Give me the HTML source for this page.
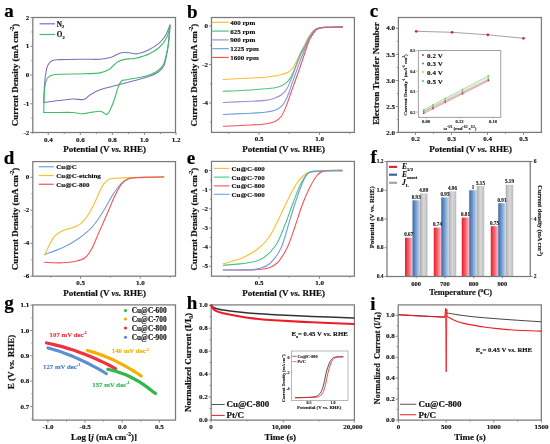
<!DOCTYPE html><html><head><meta charset="utf-8"><style>html,body{margin:0;padding:0;background:#fff;width:550px;height:444px;overflow:hidden}svg{display:block}</style></head><body><svg width="550" height="444" viewBox="0 0 550 444">
<defs><filter id="bl" x="-1%" y="-1%" width="102%" height="102%"><feGaussianBlur stdDeviation="0.3"/></filter></defs>
<rect width="550" height="444" fill="#fff"/>
<g filter="url(#bl)">
<text x="4.3" y="17.4" text-anchor="start" style="font-family:'Liberation Serif',serif;font-weight:bold;font-size:19px;" fill="#000" stroke="#000" stroke-width="0.200"><tspan dy="-0.00">a</tspan></text>
<rect x="32.8" y="17.5" width="142.7" height="115" fill="none" stroke="#7a7a7a" stroke-width="1.25"/>
<line x1="32.8" y1="17.6" x2="30.3" y2="17.6" stroke="#7a7a7a" stroke-width="0.9"/>
<text x="29.3" y="19.7" text-anchor="end" style="font-family:'Liberation Serif',serif;font-weight:bold;font-size:7px;" fill="#111" stroke="#111" stroke-width="0.150"><tspan dy="-0.00">2</tspan></text>
<line x1="32.8" y1="46.3" x2="30.3" y2="46.3" stroke="#7a7a7a" stroke-width="0.9"/>
<text x="29.3" y="48.4" text-anchor="end" style="font-family:'Liberation Serif',serif;font-weight:bold;font-size:7px;" fill="#111" stroke="#111" stroke-width="0.150"><tspan dy="-0.00">1</tspan></text>
<line x1="32.8" y1="75" x2="30.3" y2="75" stroke="#7a7a7a" stroke-width="0.9"/>
<text x="29.3" y="77.1" text-anchor="end" style="font-family:'Liberation Serif',serif;font-weight:bold;font-size:7px;" fill="#111" stroke="#111" stroke-width="0.150"><tspan dy="-0.00">0</tspan></text>
<line x1="32.8" y1="103.75" x2="30.3" y2="103.75" stroke="#7a7a7a" stroke-width="0.9"/>
<text x="29.3" y="105.85" text-anchor="end" style="font-family:'Liberation Serif',serif;font-weight:bold;font-size:7px;" fill="#111" stroke="#111" stroke-width="0.150"><tspan dy="-0.00">-1</tspan></text>
<line x1="32.8" y1="132.5" x2="30.3" y2="132.5" stroke="#7a7a7a" stroke-width="0.9"/>
<text x="29.3" y="134.6" text-anchor="end" style="font-family:'Liberation Serif',serif;font-weight:bold;font-size:7px;" fill="#111" stroke="#111" stroke-width="0.150"><tspan dy="-0.00">-2</tspan></text>
<line x1="32.8" y1="31.95" x2="31.3" y2="31.95" stroke="#7a7a7a" stroke-width="0.8"/>
<line x1="32.8" y1="60.65" x2="31.3" y2="60.65" stroke="#7a7a7a" stroke-width="0.8"/>
<line x1="32.8" y1="89.38" x2="31.3" y2="89.38" stroke="#7a7a7a" stroke-width="0.8"/>
<line x1="32.8" y1="118.12" x2="31.3" y2="118.12" stroke="#7a7a7a" stroke-width="0.8"/>
<line x1="48.25" y1="132.5" x2="48.25" y2="135" stroke="#7a7a7a" stroke-width="0.9"/>
<text x="48.25" y="141.5" text-anchor="middle" style="font-family:'Liberation Serif',serif;font-weight:bold;font-size:7px;" fill="#111" stroke="#111" stroke-width="0.150"><tspan dy="-0.00">0.4</tspan></text>
<line x1="80.31" y1="132.5" x2="80.31" y2="135" stroke="#7a7a7a" stroke-width="0.9"/>
<text x="80.31" y="141.5" text-anchor="middle" style="font-family:'Liberation Serif',serif;font-weight:bold;font-size:7px;" fill="#111" stroke="#111" stroke-width="0.150"><tspan dy="-0.00">0.6</tspan></text>
<line x1="112.37" y1="132.5" x2="112.37" y2="135" stroke="#7a7a7a" stroke-width="0.9"/>
<text x="112.37" y="141.5" text-anchor="middle" style="font-family:'Liberation Serif',serif;font-weight:bold;font-size:7px;" fill="#111" stroke="#111" stroke-width="0.150"><tspan dy="-0.00">0.8</tspan></text>
<line x1="144.43" y1="132.5" x2="144.43" y2="135" stroke="#7a7a7a" stroke-width="0.9"/>
<text x="144.43" y="141.5" text-anchor="middle" style="font-family:'Liberation Serif',serif;font-weight:bold;font-size:7px;" fill="#111" stroke="#111" stroke-width="0.150"><tspan dy="-0.00">1.0</tspan></text>
<line x1="176" y1="132.5" x2="176" y2="135" stroke="#7a7a7a" stroke-width="0.9"/>
<text x="176" y="141.5" text-anchor="middle" style="font-family:'Liberation Serif',serif;font-weight:bold;font-size:7px;" fill="#111" stroke="#111" stroke-width="0.150"><tspan dy="-0.00">1.2</tspan></text>
<line x1="32.22" y1="132.5" x2="32.22" y2="134" stroke="#7a7a7a" stroke-width="0.8"/>
<line x1="64.28" y1="132.5" x2="64.28" y2="134" stroke="#7a7a7a" stroke-width="0.8"/>
<line x1="96.34" y1="132.5" x2="96.34" y2="134" stroke="#7a7a7a" stroke-width="0.8"/>
<line x1="128.4" y1="132.5" x2="128.4" y2="134" stroke="#7a7a7a" stroke-width="0.8"/>
<line x1="160.46" y1="132.5" x2="160.46" y2="134" stroke="#7a7a7a" stroke-width="0.8"/>
<text x="104.7" y="152" text-anchor="middle" style="font-family:'Liberation Serif',serif;font-weight:bold;font-size:9px;" fill="#111" stroke="#111" stroke-width="0.193"><tspan dy="-0.00">Potential (V </tspan><tspan dy="0.00" font-style="italic">vs.</tspan><tspan dy="0.00"> RHE)</tspan></text>
<text x="17.5" y="75" text-anchor="middle" style="font-family:'Liberation Serif',serif;font-weight:bold;font-size:9px;" fill="#111" stroke="#111" stroke-width="0.193" transform="rotate(-90 17.5 75)"><tspan dy="-0.00">Current Density (mA cm</tspan><tspan dy="-3.42" style="font-size:5.58px">-2</tspan><tspan dy="3.42">)</tspan></text>
<path d="M43.75,102.5 C43.88,99.58 44.12,90.08 44.5,85 C44.88,79.92 45.42,75.33 46,72 C46.58,68.67 46.92,66.92 48,65 C49.08,63.08 50.5,61.4 52.5,60.5 C54.5,59.6 54.58,59.81 60,59.6 C65.42,59.39 78.33,59.32 85,59.25 C91.67,59.18 95.62,59.54 100,59.2 C104.38,58.86 108.63,57.9 111.3,57.2 C113.97,56.5 114.32,55.75 116,55 C117.68,54.25 119.18,53.08 121.4,52.7 C123.62,52.32 126.67,52.52 129.3,52.7 C131.93,52.88 134.2,54.18 137.2,53.8 C140.2,53.42 143.73,52.1 147.3,50.4 C150.87,48.7 155.6,46.03 158.6,43.6 C161.6,41.17 163.4,38.9 165.3,35.8 C167.2,32.7 169.22,26.8 170,25" fill="none" stroke="#7a72b8" stroke-width="1.1" stroke-linejoin="round" stroke-linecap="round" />
<path d="M170,25 C169.75,27.83 168.9,37.95 168.5,42 C168.1,46.05 168.32,45.47 167.6,49.3 C166.88,53.13 165.7,61.25 164.2,65 C162.7,68.75 161.05,69.92 158.6,71.8 C156.15,73.68 153.63,74.8 149.5,76.3 C145.37,77.8 138.67,79.48 133.8,80.8 C128.93,82.12 125.93,82.7 120.3,84.2 C114.67,85.7 105.05,88 100,89.8 C94.95,91.6 92.71,93.38 90,95 C87.29,96.62 86.67,98.83 83.75,99.5 C80.83,100.17 77.29,98.75 72.5,99 C67.71,99.25 59.79,100.42 55,101 C50.21,101.58 45.62,102.25 43.75,102.5" fill="none" stroke="#7a72b8" stroke-width="1.1" stroke-linejoin="round" stroke-linecap="round" />
<path d="M43.75,112.5 C43.83,109.58 43.91,99.92 44.2,95 C44.49,90.08 44.87,85.92 45.5,83 C46.13,80.08 46.83,78.83 48,77.5 C49.17,76.17 50.5,75.55 52.5,75 C54.5,74.45 54.58,74.41 60,74.2 C65.42,73.99 78.33,73.97 85,73.75 C91.67,73.53 96,73.61 100,72.9 C104,72.19 106.67,70.82 109,69.5 C111.33,68.18 112.5,66.3 114,65 C115.5,63.7 116.2,62.63 118,61.7 C119.8,60.77 122.8,59.88 124.8,59.4 C126.8,58.92 128.13,58.98 130,58.8 C131.87,58.62 132.75,59.13 136,58.3 C139.25,57.47 145.55,55.68 149.5,53.8 C153.45,51.92 156.88,49.63 159.7,47 C162.52,44.37 164.68,41.42 166.4,38 C168.12,34.58 169.4,28.42 170,26.5" fill="none" stroke="#3cbf6a" stroke-width="1.1" stroke-linejoin="round" stroke-linecap="round" />
<path d="M170,26.5 C169.78,29.17 169.37,37.58 168.7,42.5 C168.03,47.42 166.93,52.25 166,56 C165.07,59.75 164.72,62.37 163.1,65 C161.48,67.63 159.32,69.92 156.3,71.8 C153.28,73.68 149.88,74.98 145,76.3 C140.12,77.62 130.93,78.92 127,79.7 C123.07,80.48 122.9,79.68 121.4,81 C119.9,82.32 119.13,84.63 118,87.6 C116.87,90.57 115.92,95.05 114.6,98.8 C113.28,102.55 111.4,107.47 110.1,110.1 C108.8,112.73 107.98,114.2 106.8,114.6 C105.62,115 104.13,113.07 103,112.5 C101.87,111.93 102.17,111.2 100,111.2 C97.83,111.2 92.92,112.08 90,112.5 C87.08,112.92 85.42,113.75 82.5,113.75 C79.58,113.75 77.08,112.71 72.5,112.5 C67.92,112.29 59.79,112.5 55,112.5 C50.21,112.5 45.62,112.5 43.75,112.5" fill="none" stroke="#3cbf6a" stroke-width="1.1" stroke-linejoin="round" stroke-linecap="round" />
<line x1="39.5" y1="23.8" x2="55" y2="23.8" stroke="#7a72b8" stroke-width="1.2"/>
<line x1="39.5" y1="34.5" x2="55" y2="34.5" stroke="#3cbf6a" stroke-width="1.2"/>
<text x="56.8" y="26.6" text-anchor="start" style="font-family:'Liberation Serif',serif;font-weight:bold;font-size:7.2px;" fill="#111" stroke="#111" stroke-width="0.154"><tspan dy="-0.00">N</tspan><tspan dy="1.44" style="font-size:4.46px">2</tspan></text>
<text x="56.8" y="37.3" text-anchor="start" style="font-family:'Liberation Serif',serif;font-weight:bold;font-size:7.2px;" fill="#111" stroke="#111" stroke-width="0.154"><tspan dy="-0.00">O</tspan><tspan dy="1.44" style="font-size:4.46px">2</tspan></text>
<text x="187" y="17.5" text-anchor="start" style="font-family:'Liberation Serif',serif;font-weight:bold;font-size:19px;" fill="#000" stroke="#000" stroke-width="0.200"><tspan dy="-0.00">b</tspan></text>
<rect x="211.5" y="17.5" width="142.9" height="114.9" fill="none" stroke="#7a7a7a" stroke-width="1.25"/>
<line x1="211.5" y1="26" x2="209" y2="26" stroke="#7a7a7a" stroke-width="0.9"/>
<text x="208" y="28.1" text-anchor="end" style="font-family:'Liberation Serif',serif;font-weight:bold;font-size:7px;" fill="#111" stroke="#111" stroke-width="0.150"><tspan dy="-0.00">0</tspan></text>
<line x1="211.5" y1="64.5" x2="209" y2="64.5" stroke="#7a7a7a" stroke-width="0.9"/>
<text x="208" y="66.6" text-anchor="end" style="font-family:'Liberation Serif',serif;font-weight:bold;font-size:7px;" fill="#111" stroke="#111" stroke-width="0.150"><tspan dy="-0.00">-2</tspan></text>
<line x1="211.5" y1="103" x2="209" y2="103" stroke="#7a7a7a" stroke-width="0.9"/>
<text x="208" y="105.1" text-anchor="end" style="font-family:'Liberation Serif',serif;font-weight:bold;font-size:7px;" fill="#111" stroke="#111" stroke-width="0.150"><tspan dy="-0.00">-4</tspan></text>
<line x1="211.5" y1="45.25" x2="210" y2="45.25" stroke="#7a7a7a" stroke-width="0.8"/>
<line x1="211.5" y1="83.75" x2="210" y2="83.75" stroke="#7a7a7a" stroke-width="0.8"/>
<line x1="211.5" y1="122.25" x2="210" y2="122.25" stroke="#7a7a7a" stroke-width="0.8"/>
<line x1="259" y1="132.4" x2="259" y2="134.9" stroke="#7a7a7a" stroke-width="0.9"/>
<text x="259" y="141.4" text-anchor="middle" style="font-family:'Liberation Serif',serif;font-weight:bold;font-size:7px;" fill="#111" stroke="#111" stroke-width="0.150"><tspan dy="-0.00">0.5</tspan></text>
<line x1="319.5" y1="132.4" x2="319.5" y2="134.9" stroke="#7a7a7a" stroke-width="0.9"/>
<text x="319.5" y="141.4" text-anchor="middle" style="font-family:'Liberation Serif',serif;font-weight:bold;font-size:7px;" fill="#111" stroke="#111" stroke-width="0.150"><tspan dy="-0.00">1.0</tspan></text>
<line x1="228.75" y1="132.4" x2="228.75" y2="133.9" stroke="#7a7a7a" stroke-width="0.8"/>
<line x1="289.25" y1="132.4" x2="289.25" y2="133.9" stroke="#7a7a7a" stroke-width="0.8"/>
<line x1="349.75" y1="132.4" x2="349.75" y2="133.9" stroke="#7a7a7a" stroke-width="0.8"/>
<text x="283.7" y="152" text-anchor="middle" style="font-family:'Liberation Serif',serif;font-weight:bold;font-size:9px;" fill="#111" stroke="#111" stroke-width="0.193"><tspan dy="-0.00">Potential (V </tspan><tspan dy="0.00" font-style="italic">vs.</tspan><tspan dy="0.00"> RHE)</tspan></text>
<text x="196.5" y="75" text-anchor="middle" style="font-family:'Liberation Serif',serif;font-weight:bold;font-size:9px;" fill="#111" stroke="#111" stroke-width="0.193" transform="rotate(-90 196.5 75)"><tspan dy="-0.00">Current Density (mA cm</tspan><tspan dy="-3.42" style="font-size:5.58px">-2</tspan><tspan dy="3.42">)</tspan></text>
<path d="M223.25,79.5 C226.88,79.3 238.04,78.68 245,78.3 C251.96,77.92 259.18,77.75 265,77.2 C270.82,76.65 275.98,75.87 279.9,75 C283.82,74.13 286.23,73.33 288.5,72 C290.77,70.67 291.85,69.48 293.5,67 C295.15,64.52 296.55,60.77 298.4,57.1 C300.25,53.43 302.92,48.3 304.6,45 C306.28,41.7 306.85,39.8 308.5,37.3 C310.15,34.8 312.58,31.57 314.5,30 C316.42,28.43 318.08,28.35 320,27.9 C321.92,27.45 322.25,27.47 326,27.3 C329.75,27.13 339.75,26.97 342.5,26.9" fill="none" stroke="#f8bf2e" stroke-width="1.1" stroke-linejoin="round" stroke-linecap="round" />
<path d="M223.25,91.25 C226.88,91.08 238.04,90.61 245,90.2 C251.96,89.79 259.6,89.28 265,88.8 C270.4,88.32 273.9,88.25 277.4,87.3 C280.9,86.35 283.73,84.83 286,83.1 C288.27,81.37 289.33,79.78 291,76.9 C292.67,74.02 294.25,69.95 296,65.8 C297.75,61.65 299.92,55.47 301.5,52 C303.08,48.53 304.25,47.45 305.5,45 C306.75,42.55 307.45,39.8 309,37.3 C310.55,34.8 312.97,31.57 314.8,30 C316.63,28.43 318.13,28.35 320,27.9 C321.87,27.45 322.25,27.47 326,27.3 C329.75,27.13 339.75,26.97 342.5,26.9" fill="none" stroke="#4cc47f" stroke-width="1.1" stroke-linejoin="round" stroke-linecap="round" />
<path d="M223.25,102.5 C226.88,102.33 238.04,101.85 245,101.5 C251.96,101.15 260.02,100.98 265,100.4 C269.98,99.82 272.02,99.02 274.9,98 C277.78,96.98 280.23,95.95 282.3,94.3 C284.37,92.65 285.65,91 287.3,88.1 C288.95,85.2 290.35,81.65 292.2,76.9 C294.05,72.15 296.13,64.92 298.4,59.6 C300.67,54.28 303.98,48.72 305.8,45 C307.62,41.28 307.77,39.8 309.3,37.3 C310.83,34.8 313.22,31.57 315,30 C316.78,28.43 318.17,28.35 320,27.9 C321.83,27.45 322.25,27.47 326,27.3 C329.75,27.13 339.75,26.97 342.5,26.9" fill="none" stroke="#9d93cc" stroke-width="1.1" stroke-linejoin="round" stroke-linecap="round" />
<path d="M223.25,114.5 C226.88,114.33 238.04,113.87 245,113.5 C251.96,113.13 260.02,112.83 265,112.3 C269.98,111.77 272.02,111.45 274.9,110.3 C277.78,109.15 280.23,107.67 282.3,105.4 C284.37,103.13 285.65,100.42 287.3,96.7 C288.95,92.98 290.13,88.87 292.2,83.1 C294.27,77.33 297.32,68.45 299.7,62.1 C302.08,55.75 304.82,49.13 306.5,45 C308.18,40.87 308.33,39.8 309.8,37.3 C311.27,34.8 313.6,31.57 315.3,30 C317,28.43 318.22,28.35 320,27.9 C321.78,27.45 322.25,27.47 326,27.3 C329.75,27.13 339.75,26.97 342.5,26.9" fill="none" stroke="#6fa0de" stroke-width="1.1" stroke-linejoin="round" stroke-linecap="round" />
<path d="M223.25,126.25 C226.88,126.09 238.04,125.67 245,125.3 C251.96,124.92 260.02,124.63 265,124 C269.98,123.37 272.22,122.75 274.9,121.5 C277.58,120.25 279.25,118.98 281.1,116.5 C282.95,114.02 284.15,111.13 286,106.6 C287.85,102.07 289.92,95.68 292.2,89.3 C294.48,82.92 297.15,75.68 299.7,68.3 C302.25,60.92 305.63,50.17 307.5,45 C309.37,39.83 309.48,39.8 310.9,37.3 C312.32,34.8 314.4,31.55 316,30 C317.6,28.45 318.83,28.45 320.5,28 C322.17,27.55 322.33,27.48 326,27.3 C329.67,27.12 339.75,26.97 342.5,26.9" fill="none" stroke="#f5525a" stroke-width="1.1" stroke-linejoin="round" stroke-linecap="round" />
<line x1="212.2" y1="22.3" x2="228.8" y2="22.3" stroke="#f8bf2e" stroke-width="1.2"/>
<text x="230.2" y="24.7" text-anchor="start" style="font-family:'Liberation Serif',serif;font-weight:bold;font-size:7px;" fill="#111" stroke="#111" stroke-width="0.150"><tspan dy="-0.00">400 rpm</tspan></text>
<line x1="212.2" y1="31.1" x2="228.8" y2="31.1" stroke="#4cc47f" stroke-width="1.2"/>
<text x="230.2" y="33.5" text-anchor="start" style="font-family:'Liberation Serif',serif;font-weight:bold;font-size:7px;" fill="#111" stroke="#111" stroke-width="0.150"><tspan dy="-0.00">625 rpm</tspan></text>
<line x1="212.2" y1="39.9" x2="228.8" y2="39.9" stroke="#9d93cc" stroke-width="1.2"/>
<text x="230.2" y="42.3" text-anchor="start" style="font-family:'Liberation Serif',serif;font-weight:bold;font-size:7px;" fill="#111" stroke="#111" stroke-width="0.150"><tspan dy="-0.00">900 rpm</tspan></text>
<line x1="212.2" y1="48.7" x2="228.8" y2="48.7" stroke="#6fa0de" stroke-width="1.2"/>
<text x="230.2" y="51.1" text-anchor="start" style="font-family:'Liberation Serif',serif;font-weight:bold;font-size:7px;" fill="#111" stroke="#111" stroke-width="0.150"><tspan dy="-0.00">1225 rpm</tspan></text>
<line x1="212.2" y1="57.45" x2="228.8" y2="57.45" stroke="#f5525a" stroke-width="1.2"/>
<text x="230.2" y="59.85" text-anchor="start" style="font-family:'Liberation Serif',serif;font-weight:bold;font-size:7px;" fill="#111" stroke="#111" stroke-width="0.150"><tspan dy="-0.00">1600 rpm</tspan></text>
<text x="369.8" y="17.4" text-anchor="start" style="font-family:'Liberation Serif',serif;font-weight:bold;font-size:19px;" fill="#000" stroke="#000" stroke-width="0.200"><tspan dy="-0.00">c</tspan></text>
<rect x="398.4" y="17.5" width="143" height="114.9" fill="none" stroke="#7a7a7a" stroke-width="1.25"/>
<line x1="398.4" y1="28.3" x2="395.9" y2="28.3" stroke="#7a7a7a" stroke-width="0.9"/>
<text x="394.9" y="30.4" text-anchor="end" style="font-family:'Liberation Serif',serif;font-weight:bold;font-size:7px;" fill="#111" stroke="#111" stroke-width="0.150"><tspan dy="-0.00">4.0</tspan></text>
<line x1="398.4" y1="54.4" x2="395.9" y2="54.4" stroke="#7a7a7a" stroke-width="0.9"/>
<text x="394.9" y="56.5" text-anchor="end" style="font-family:'Liberation Serif',serif;font-weight:bold;font-size:7px;" fill="#111" stroke="#111" stroke-width="0.150"><tspan dy="-0.00">3.5</tspan></text>
<line x1="398.4" y1="80.5" x2="395.9" y2="80.5" stroke="#7a7a7a" stroke-width="0.9"/>
<text x="394.9" y="82.6" text-anchor="end" style="font-family:'Liberation Serif',serif;font-weight:bold;font-size:7px;" fill="#111" stroke="#111" stroke-width="0.150"><tspan dy="-0.00">3.0</tspan></text>
<line x1="398.4" y1="106.6" x2="395.9" y2="106.6" stroke="#7a7a7a" stroke-width="0.9"/>
<text x="394.9" y="108.7" text-anchor="end" style="font-family:'Liberation Serif',serif;font-weight:bold;font-size:7px;" fill="#111" stroke="#111" stroke-width="0.150"><tspan dy="-0.00">2.5</tspan></text>
<line x1="398.4" y1="132.4" x2="395.9" y2="132.4" stroke="#7a7a7a" stroke-width="0.9"/>
<text x="394.9" y="134.5" text-anchor="end" style="font-family:'Liberation Serif',serif;font-weight:bold;font-size:7px;" fill="#111" stroke="#111" stroke-width="0.150"><tspan dy="-0.00">2.0</tspan></text>
<line x1="398.4" y1="41.35" x2="396.9" y2="41.35" stroke="#7a7a7a" stroke-width="0.8"/>
<line x1="398.4" y1="67.45" x2="396.9" y2="67.45" stroke="#7a7a7a" stroke-width="0.8"/>
<line x1="398.4" y1="93.55" x2="396.9" y2="93.55" stroke="#7a7a7a" stroke-width="0.8"/>
<line x1="398.4" y1="119.65" x2="396.9" y2="119.65" stroke="#7a7a7a" stroke-width="0.8"/>
<line x1="415.5" y1="132.4" x2="415.5" y2="134.9" stroke="#7a7a7a" stroke-width="0.9"/>
<text x="415.5" y="141.4" text-anchor="middle" style="font-family:'Liberation Serif',serif;font-weight:bold;font-size:7px;" fill="#111" stroke="#111" stroke-width="0.150"><tspan dy="-0.00">0.2</tspan></text>
<line x1="451.5" y1="132.4" x2="451.5" y2="134.9" stroke="#7a7a7a" stroke-width="0.9"/>
<text x="451.5" y="141.4" text-anchor="middle" style="font-family:'Liberation Serif',serif;font-weight:bold;font-size:7px;" fill="#111" stroke="#111" stroke-width="0.150"><tspan dy="-0.00">0.3</tspan></text>
<line x1="487.5" y1="132.4" x2="487.5" y2="134.9" stroke="#7a7a7a" stroke-width="0.9"/>
<text x="487.5" y="141.4" text-anchor="middle" style="font-family:'Liberation Serif',serif;font-weight:bold;font-size:7px;" fill="#111" stroke="#111" stroke-width="0.150"><tspan dy="-0.00">0.4</tspan></text>
<line x1="523.5" y1="132.4" x2="523.5" y2="134.9" stroke="#7a7a7a" stroke-width="0.9"/>
<text x="523.5" y="141.4" text-anchor="middle" style="font-family:'Liberation Serif',serif;font-weight:bold;font-size:7px;" fill="#111" stroke="#111" stroke-width="0.150"><tspan dy="-0.00">0.5</tspan></text>
<line x1="433.5" y1="132.4" x2="433.5" y2="133.9" stroke="#7a7a7a" stroke-width="0.8"/>
<line x1="469.5" y1="132.4" x2="469.5" y2="133.9" stroke="#7a7a7a" stroke-width="0.8"/>
<line x1="505.5" y1="132.4" x2="505.5" y2="133.9" stroke="#7a7a7a" stroke-width="0.8"/>
<text x="470.7" y="152" text-anchor="middle" style="font-family:'Liberation Serif',serif;font-weight:bold;font-size:9px;" fill="#111" stroke="#111" stroke-width="0.193"><tspan dy="-0.00">Potential (V </tspan><tspan dy="0.00" font-style="italic">vs.</tspan><tspan dy="0.00"> RHE)</tspan></text>
<text x="378.5" y="73.5" text-anchor="middle" style="font-family:'Liberation Serif',serif;font-weight:bold;font-size:9px;" fill="#111" stroke="#111" stroke-width="0.193" transform="rotate(-90 378.5 73.5)"><tspan dy="-0.00">Electron Transfer Number</tspan></text>
<path d="M416.2,31.3 L452,32.3 L487.8,34.8 L523.5,38.3" fill="none" stroke="#8a8a8a" stroke-width="0.8" stroke-linejoin="round" stroke-linecap="round" />
<circle cx="416.2" cy="31.3" r="1.35" fill="#ee1c25"/>
<circle cx="452" cy="32.3" r="1.35" fill="#ee1c25"/>
<circle cx="487.8" cy="34.8" r="1.35" fill="#ee1c25"/>
<circle cx="523.5" cy="38.3" r="1.35" fill="#ee1c25"/>
<rect x="418.3" y="50.6" width="82.5" height="66.7" fill="none" stroke="#888" stroke-width="0.8"/>
<line x1="417.6" y1="50.6" x2="416" y2="50.6" stroke="#888" stroke-width="0.6"/>
<text x="415.5" y="52.1" text-anchor="end" style="font-family:'Liberation Serif',serif;font-weight:bold;font-size:4.3px;" fill="#111" stroke="#111" stroke-width="0.092"><tspan dy="-0.00">0.5</tspan></text>
<line x1="417.6" y1="71.1" x2="416" y2="71.1" stroke="#888" stroke-width="0.6"/>
<text x="415.5" y="72.6" text-anchor="end" style="font-family:'Liberation Serif',serif;font-weight:bold;font-size:4.3px;" fill="#111" stroke="#111" stroke-width="0.092"><tspan dy="-0.00">0.4</tspan></text>
<line x1="417.6" y1="91.6" x2="416" y2="91.6" stroke="#888" stroke-width="0.6"/>
<text x="415.5" y="93.1" text-anchor="end" style="font-family:'Liberation Serif',serif;font-weight:bold;font-size:4.3px;" fill="#111" stroke="#111" stroke-width="0.092"><tspan dy="-0.00">0.3</tspan></text>
<line x1="417.6" y1="112.1" x2="416" y2="112.1" stroke="#888" stroke-width="0.6"/>
<text x="415.5" y="113.6" text-anchor="end" style="font-family:'Liberation Serif',serif;font-weight:bold;font-size:4.3px;" fill="#111" stroke="#111" stroke-width="0.092"><tspan dy="-0.00">0.2</tspan></text>
<line x1="426.0" y1="117.3" x2="426.0" y2="118.6" stroke="#888" stroke-width="0.6"/>
<text x="426" y="123.4" text-anchor="middle" style="font-family:'Liberation Serif',serif;font-weight:bold;font-size:4.6px;" fill="#111" stroke="#111" stroke-width="0.099"><tspan dy="-0.00">0.08</tspan></text>
<line x1="459.5" y1="117.3" x2="459.5" y2="118.6" stroke="#888" stroke-width="0.6"/>
<text x="459.5" y="123.4" text-anchor="middle" style="font-family:'Liberation Serif',serif;font-weight:bold;font-size:4.6px;" fill="#111" stroke="#111" stroke-width="0.099"><tspan dy="-0.00">0.12</tspan></text>
<line x1="493.0" y1="117.3" x2="493.0" y2="118.6" stroke="#888" stroke-width="0.6"/>
<text x="493" y="123.4" text-anchor="middle" style="font-family:'Liberation Serif',serif;font-weight:bold;font-size:4.6px;" fill="#111" stroke="#111" stroke-width="0.099"><tspan dy="-0.00">0.16</tspan></text>
<text x="460" y="129.5" text-anchor="middle" style="font-family:'Liberation Serif',serif;font-weight:bold;font-size:5px;" fill="#111" stroke="#111" stroke-width="0.107"><tspan dy="-0.00">ω</tspan><tspan dy="-1.90" style="font-size:3.10px">-1/2</tspan><tspan dy="1.90"> (rad</tspan><tspan dy="-1.90" style="font-size:3.10px">-1/2</tspan><tspan dy="1.90"> s</tspan><tspan dy="-1.90" style="font-size:3.10px">1/2</tspan><tspan dy="1.90">)</tspan></text>
<text x="406.5" y="85" text-anchor="middle" style="font-family:'Liberation Serif',serif;font-weight:bold;font-size:5px;" fill="#111" stroke="#111" stroke-width="0.107" transform="rotate(-90 406.5 85)"><tspan dy="-0.00">Current Density</tspan><tspan dy="-1.90" style="font-size:3.10px">-1</tspan><tspan dy="1.90"> (mA</tspan><tspan dy="-1.90" style="font-size:3.10px">-1</tspan><tspan dy="1.90"> cm</tspan><tspan dy="-1.90" style="font-size:3.10px">2</tspan><tspan dy="1.90">)</tspan></text>
<line x1="423.65" y1="109.89" x2="488.4" y2="75.90" stroke="#3fc77a" stroke-width="1" stroke-opacity="0.55"/>
<line x1="423.65" y1="110.95" x2="488.4" y2="77.80" stroke="#f2c230" stroke-width="1" stroke-opacity="0.55"/>
<line x1="423.65" y1="111.78" x2="488.4" y2="79.40" stroke="#4f86c6" stroke-width="1" stroke-opacity="0.55"/>
<line x1="423.65" y1="113.36" x2="488.4" y2="80.60" stroke="#ee2a3a" stroke-width="1" stroke-opacity="0.55"/>
<rect x="422.90" y="109.14" width="1.5" height="1.5" fill="#3fc77a"/>
<rect x="432.20" y="104.26" width="1.5" height="1.5" fill="#3fc77a"/>
<rect x="444.55" y="97.78" width="1.5" height="1.5" fill="#3fc77a"/>
<rect x="461.75" y="88.75" width="1.5" height="1.5" fill="#3fc77a"/>
<rect x="487.65" y="75.15" width="1.5" height="1.5" fill="#3fc77a"/>
<rect x="422.90" y="110.20" width="1.5" height="1.5" fill="#f2c230"/>
<rect x="432.20" y="105.44" width="1.5" height="1.5" fill="#f2c230"/>
<rect x="444.55" y="99.12" width="1.5" height="1.5" fill="#f2c230"/>
<rect x="461.75" y="90.31" width="1.5" height="1.5" fill="#f2c230"/>
<rect x="487.65" y="77.05" width="1.5" height="1.5" fill="#f2c230"/>
<rect x="422.90" y="111.03" width="1.5" height="1.5" fill="#4f86c6"/>
<rect x="432.20" y="106.38" width="1.5" height="1.5" fill="#4f86c6"/>
<rect x="444.55" y="100.20" width="1.5" height="1.5" fill="#4f86c6"/>
<rect x="461.75" y="91.60" width="1.5" height="1.5" fill="#4f86c6"/>
<rect x="487.65" y="78.65" width="1.5" height="1.5" fill="#4f86c6"/>
<rect x="422.90" y="112.61" width="1.5" height="1.5" fill="#ee2a3a"/>
<rect x="432.20" y="107.91" width="1.5" height="1.5" fill="#ee2a3a"/>
<rect x="444.55" y="101.66" width="1.5" height="1.5" fill="#ee2a3a"/>
<rect x="461.75" y="92.96" width="1.5" height="1.5" fill="#ee2a3a"/>
<rect x="487.65" y="79.85" width="1.5" height="1.5" fill="#ee2a3a"/>
<circle cx="423" cy="55" r="1" fill="#ee2a3a"/>
<text x="427" y="57.5" text-anchor="start" style="font-family:'Liberation Serif',serif;font-weight:bold;font-size:7px;letter-spacing:0.12px" fill="#111" stroke="#111" stroke-width="0.150"><tspan dy="-0.00">0.2 V</tspan></text>
<circle cx="423" cy="63.6" r="1" fill="#4f86c6"/>
<text x="427" y="66.1" text-anchor="start" style="font-family:'Liberation Serif',serif;font-weight:bold;font-size:7px;letter-spacing:0.12px" fill="#111" stroke="#111" stroke-width="0.150"><tspan dy="-0.00">0.3 V</tspan></text>
<circle cx="423" cy="72" r="1" fill="#f2c230"/>
<text x="427" y="74.5" text-anchor="start" style="font-family:'Liberation Serif',serif;font-weight:bold;font-size:7px;letter-spacing:0.12px" fill="#111" stroke="#111" stroke-width="0.150"><tspan dy="-0.00">0.4 V</tspan></text>
<circle cx="423" cy="81" r="1" fill="#3fc77a"/>
<text x="427" y="83.5" text-anchor="start" style="font-family:'Liberation Serif',serif;font-weight:bold;font-size:7px;letter-spacing:0.12px" fill="#111" stroke="#111" stroke-width="0.150"><tspan dy="-0.00">0.5 V</tspan></text>
<text x="3.8" y="163.6" text-anchor="start" style="font-family:'Liberation Serif',serif;font-weight:bold;font-size:19px;" fill="#000" stroke="#000" stroke-width="0.200"><tspan dy="-0.00">d</tspan></text>
<rect x="32.8" y="161.6" width="142.7" height="114.6" fill="none" stroke="#7a7a7a" stroke-width="1.25"/>
<line x1="32.8" y1="177.25" x2="30.3" y2="177.25" stroke="#7a7a7a" stroke-width="0.9"/>
<text x="29.3" y="179.35" text-anchor="end" style="font-family:'Liberation Serif',serif;font-weight:bold;font-size:7px;" fill="#111" stroke="#111" stroke-width="0.150"><tspan dy="-0.00">0</tspan></text>
<line x1="32.8" y1="210.23" x2="30.3" y2="210.23" stroke="#7a7a7a" stroke-width="0.9"/>
<text x="29.3" y="212.33" text-anchor="end" style="font-family:'Liberation Serif',serif;font-weight:bold;font-size:7px;" fill="#111" stroke="#111" stroke-width="0.150"><tspan dy="-0.00">-2</tspan></text>
<line x1="32.8" y1="243.21" x2="30.3" y2="243.21" stroke="#7a7a7a" stroke-width="0.9"/>
<text x="29.3" y="245.31" text-anchor="end" style="font-family:'Liberation Serif',serif;font-weight:bold;font-size:7px;" fill="#111" stroke="#111" stroke-width="0.150"><tspan dy="-0.00">-4</tspan></text>
<line x1="32.8" y1="276.2" x2="30.3" y2="276.2" stroke="#7a7a7a" stroke-width="0.9"/>
<text x="29.3" y="278.3" text-anchor="end" style="font-family:'Liberation Serif',serif;font-weight:bold;font-size:7px;" fill="#111" stroke="#111" stroke-width="0.150"><tspan dy="-0.00">-6</tspan></text>
<line x1="32.8" y1="193.74" x2="31.3" y2="193.74" stroke="#7a7a7a" stroke-width="0.8"/>
<line x1="32.8" y1="226.72" x2="31.3" y2="226.72" stroke="#7a7a7a" stroke-width="0.8"/>
<line x1="32.8" y1="259.7" x2="31.3" y2="259.7" stroke="#7a7a7a" stroke-width="0.8"/>
<line x1="80.5" y1="276.2" x2="80.5" y2="278.7" stroke="#7a7a7a" stroke-width="0.9"/>
<text x="80.5" y="285.2" text-anchor="middle" style="font-family:'Liberation Serif',serif;font-weight:bold;font-size:7px;" fill="#111" stroke="#111" stroke-width="0.150"><tspan dy="-0.00">0.5</tspan></text>
<line x1="140.25" y1="276.2" x2="140.25" y2="278.7" stroke="#7a7a7a" stroke-width="0.9"/>
<text x="140.25" y="285.2" text-anchor="middle" style="font-family:'Liberation Serif',serif;font-weight:bold;font-size:7px;" fill="#111" stroke="#111" stroke-width="0.150"><tspan dy="-0.00">1.0</tspan></text>
<line x1="50.62" y1="276.2" x2="50.62" y2="277.7" stroke="#7a7a7a" stroke-width="0.8"/>
<line x1="110.38" y1="276.2" x2="110.38" y2="277.7" stroke="#7a7a7a" stroke-width="0.8"/>
<line x1="170.12" y1="276.2" x2="170.12" y2="277.7" stroke="#7a7a7a" stroke-width="0.8"/>
<text x="104.7" y="295.5" text-anchor="middle" style="font-family:'Liberation Serif',serif;font-weight:bold;font-size:9px;" fill="#111" stroke="#111" stroke-width="0.193"><tspan dy="-0.00">Potential (V </tspan><tspan dy="0.00" font-style="italic">vs.</tspan><tspan dy="0.00"> RHE)</tspan></text>
<text x="17.5" y="219" text-anchor="middle" style="font-family:'Liberation Serif',serif;font-weight:bold;font-size:9px;" fill="#111" stroke="#111" stroke-width="0.193" transform="rotate(-90 17.5 219)"><tspan dy="-0.00">Current Density (mA cm</tspan><tspan dy="-3.42" style="font-size:5.58px">-2</tspan><tspan dy="3.42">)</tspan></text>
<path d="M44.5,254.5 C47.5,253.37 56.87,250.33 62.5,247.7 C68.13,245.07 73.42,242.08 78.3,238.7 C83.18,235.32 87.67,231.9 91.8,227.4 C95.93,222.9 99.72,216.95 103.1,211.7 C106.48,206.45 109.1,200.6 112.1,195.9 C115.1,191.2 118.48,186.32 121.1,183.5 C123.72,180.68 125.55,179.98 127.8,179 C130.05,178.02 130.9,177.9 134.6,177.6 C138.3,177.3 145.14,177.33 150,177.2 C154.86,177.07 161.46,176.87 163.75,176.8" fill="none" stroke="#6fa0de" stroke-width="1.1" stroke-linejoin="round" stroke-linecap="round" />
<path d="M44.5,255 C46,252.1 50.5,241.63 53.5,237.6 C56.5,233.57 59.12,232.53 62.5,230.8 C65.88,229.07 70.6,228.52 73.8,227.2 C77,225.88 79.08,225.3 81.7,222.9 C84.32,220.5 87.07,216.73 89.5,212.8 C91.93,208.87 94.23,203.62 96.3,199.3 C98.37,194.98 100.02,190.1 101.9,186.9 C103.78,183.7 105.53,181.52 107.6,180.1 C109.67,178.68 110.57,178.82 114.3,178.4 C118.03,177.98 121.76,177.87 130,177.6 C138.24,177.33 158.12,176.93 163.75,176.8" fill="none" stroke="#f8bf2e" stroke-width="1.1" stroke-linejoin="round" stroke-linecap="round" />
<path d="M44.5,262.3 C47.5,262.38 57.25,262.98 62.5,262.8 C67.75,262.62 72.25,262.03 76,261.2 C79.75,260.37 82.37,259.87 85,257.8 C87.63,255.73 89.53,252.92 91.8,248.8 C94.07,244.68 95.97,239.1 98.6,233.1 C101.23,227.1 104.98,218.82 107.6,212.8 C110.22,206.78 112.05,201.7 114.3,197 C116.55,192.3 118.85,187.6 121.1,184.6 C123.35,181.6 125.55,180.17 127.8,179 C130.05,177.83 130.9,177.88 134.6,177.6 C138.3,177.32 145.14,177.4 150,177.3 C154.86,177.2 161.46,177.05 163.75,177" fill="none" stroke="#f5525a" stroke-width="1.1" stroke-linejoin="round" stroke-linecap="round" />
<line x1="38.75" y1="166.75" x2="53.75" y2="166.75" stroke="#6fa0de" stroke-width="1.2"/>
<text x="56.25" y="169.15" text-anchor="start" style="font-family:'Liberation Serif',serif;font-weight:bold;font-size:7px;" fill="#111" stroke="#111" stroke-width="0.150"><tspan dy="-0.00">Cu@C</tspan></text>
<line x1="38.75" y1="175.5" x2="53.75" y2="175.5" stroke="#f8bf2e" stroke-width="1.2"/>
<text x="56.25" y="177.9" text-anchor="start" style="font-family:'Liberation Serif',serif;font-weight:bold;font-size:7px;" fill="#111" stroke="#111" stroke-width="0.150"><tspan dy="-0.00">Cu@C-etching</tspan></text>
<line x1="38.75" y1="184.25" x2="53.75" y2="184.25" stroke="#f5525a" stroke-width="1.2"/>
<text x="56.25" y="186.65" text-anchor="start" style="font-family:'Liberation Serif',serif;font-weight:bold;font-size:7px;" fill="#111" stroke="#111" stroke-width="0.150"><tspan dy="-0.00">Cu@C-800</tspan></text>
<text x="186.7" y="163.6" text-anchor="start" style="font-family:'Liberation Serif',serif;font-weight:bold;font-size:19px;" fill="#000" stroke="#000" stroke-width="0.200"><tspan dy="-0.00">e</tspan></text>
<rect x="211.5" y="161.4" width="142.9" height="114.8" fill="none" stroke="#7a7a7a" stroke-width="1.25"/>
<line x1="211.5" y1="170.5" x2="209" y2="170.5" stroke="#7a7a7a" stroke-width="0.9"/>
<text x="208" y="172.6" text-anchor="end" style="font-family:'Liberation Serif',serif;font-weight:bold;font-size:7px;" fill="#111" stroke="#111" stroke-width="0.150"><tspan dy="-0.00">0</tspan></text>
<line x1="211.5" y1="189.65" x2="209" y2="189.65" stroke="#7a7a7a" stroke-width="0.9"/>
<text x="208" y="191.75" text-anchor="end" style="font-family:'Liberation Serif',serif;font-weight:bold;font-size:7px;" fill="#111" stroke="#111" stroke-width="0.150"><tspan dy="-0.00">-1</tspan></text>
<line x1="211.5" y1="208.8" x2="209" y2="208.8" stroke="#7a7a7a" stroke-width="0.9"/>
<text x="208" y="210.9" text-anchor="end" style="font-family:'Liberation Serif',serif;font-weight:bold;font-size:7px;" fill="#111" stroke="#111" stroke-width="0.150"><tspan dy="-0.00">-2</tspan></text>
<line x1="211.5" y1="227.95" x2="209" y2="227.95" stroke="#7a7a7a" stroke-width="0.9"/>
<text x="208" y="230.05" text-anchor="end" style="font-family:'Liberation Serif',serif;font-weight:bold;font-size:7px;" fill="#111" stroke="#111" stroke-width="0.150"><tspan dy="-0.00">-3</tspan></text>
<line x1="211.5" y1="247.1" x2="209" y2="247.1" stroke="#7a7a7a" stroke-width="0.9"/>
<text x="208" y="249.2" text-anchor="end" style="font-family:'Liberation Serif',serif;font-weight:bold;font-size:7px;" fill="#111" stroke="#111" stroke-width="0.150"><tspan dy="-0.00">-4</tspan></text>
<line x1="211.5" y1="266.25" x2="209" y2="266.25" stroke="#7a7a7a" stroke-width="0.9"/>
<text x="208" y="268.35" text-anchor="end" style="font-family:'Liberation Serif',serif;font-weight:bold;font-size:7px;" fill="#111" stroke="#111" stroke-width="0.150"><tspan dy="-0.00">-5</tspan></text>
<line x1="211.5" y1="180.07" x2="210" y2="180.07" stroke="#7a7a7a" stroke-width="0.8"/>
<line x1="211.5" y1="199.22" x2="210" y2="199.22" stroke="#7a7a7a" stroke-width="0.8"/>
<line x1="211.5" y1="218.38" x2="210" y2="218.38" stroke="#7a7a7a" stroke-width="0.8"/>
<line x1="211.5" y1="237.52" x2="210" y2="237.52" stroke="#7a7a7a" stroke-width="0.8"/>
<line x1="211.5" y1="256.68" x2="210" y2="256.68" stroke="#7a7a7a" stroke-width="0.8"/>
<line x1="259" y1="276.2" x2="259" y2="278.7" stroke="#7a7a7a" stroke-width="0.9"/>
<text x="259" y="285.2" text-anchor="middle" style="font-family:'Liberation Serif',serif;font-weight:bold;font-size:7px;" fill="#111" stroke="#111" stroke-width="0.150"><tspan dy="-0.00">0.5</tspan></text>
<line x1="319.5" y1="276.2" x2="319.5" y2="278.7" stroke="#7a7a7a" stroke-width="0.9"/>
<text x="319.5" y="285.2" text-anchor="middle" style="font-family:'Liberation Serif',serif;font-weight:bold;font-size:7px;" fill="#111" stroke="#111" stroke-width="0.150"><tspan dy="-0.00">1.0</tspan></text>
<line x1="228.75" y1="276.2" x2="228.75" y2="277.7" stroke="#7a7a7a" stroke-width="0.8"/>
<line x1="289.25" y1="276.2" x2="289.25" y2="277.7" stroke="#7a7a7a" stroke-width="0.8"/>
<line x1="349.75" y1="276.2" x2="349.75" y2="277.7" stroke="#7a7a7a" stroke-width="0.8"/>
<text x="283.7" y="295.5" text-anchor="middle" style="font-family:'Liberation Serif',serif;font-weight:bold;font-size:9px;" fill="#111" stroke="#111" stroke-width="0.193"><tspan dy="-0.00">Potential (V </tspan><tspan dy="0.00" font-style="italic">vs.</tspan><tspan dy="0.00"> RHE)</tspan></text>
<text x="196.5" y="219" text-anchor="middle" style="font-family:'Liberation Serif',serif;font-weight:bold;font-size:9px;" fill="#111" stroke="#111" stroke-width="0.193" transform="rotate(-90 196.5 219)"><tspan dy="-0.00">Current Density (mA cm</tspan><tspan dy="-3.42" style="font-size:5.58px">-2</tspan><tspan dy="3.42">)</tspan></text>
<path d="M223.25,263.75 C226.38,262.79 236.38,260.38 242,258 C247.62,255.62 252.58,252.83 257,249.5 C261.42,246.17 265,242.83 268.5,238 C272,233.17 274.83,226.75 278,220.5 C281.17,214.25 284.33,206.75 287.5,200.5 C290.67,194.25 293.75,187.58 297,183 C300.25,178.42 303.67,175 307,173 C310.33,171 311.17,171.5 317,171 C322.83,170.5 337.83,170.17 342,170" fill="none" stroke="#f8bf2e" stroke-width="1.1" stroke-linejoin="round" stroke-linecap="round" />
<path d="M223.25,265.3 C227.21,264.92 240.54,264.08 247,263 C253.46,261.92 257.17,261.8 262,258.8 C266.83,255.8 272.08,250.88 276,245 C279.92,239.12 282.67,230.5 285.5,223.5 C288.33,216.5 290.58,209.33 293,203 C295.42,196.67 297.67,190.29 300,185.5 C302.33,180.71 304.58,176.54 307,174.25 C309.42,171.96 308.67,172.41 314.5,171.75 C320.33,171.09 337.42,170.54 342,170.3" fill="none" stroke="#4cc47f" stroke-width="1.1" stroke-linejoin="round" stroke-linecap="round" />
<path d="M223.25,270 C229.71,269.88 253.04,270.42 262,269.25 C270.96,268.08 272.83,266.54 277,263 C281.17,259.46 284.08,253.83 287,248 C289.92,242.17 292,235.08 294.5,228 C297,220.92 299.5,212.17 302,205.5 C304.5,198.83 307,193 309.5,188 C312,183 314.5,178.33 317,175.5 C319.5,172.67 320.33,171.82 324.5,171 C328.67,170.18 339.08,170.67 342,170.6" fill="none" stroke="#f5525a" stroke-width="1.1" stroke-linejoin="round" stroke-linecap="round" />
<path d="M223.25,270 C227.46,269.98 242.54,270.15 248.5,269.9 C254.46,269.65 255.42,269.57 259,268.5 C262.58,267.43 266.33,266.92 270,263.5 C273.67,260.08 277.83,254.75 281,248 C284.17,241.25 286.5,230.92 289,223 C291.5,215.08 293.58,207.58 296,200.5 C298.42,193.42 301.33,185.17 303.5,180.5 C305.67,175.83 306.75,174.08 309,172.5 C311.25,170.92 311.5,171.27 317,171 C322.5,170.73 337.83,170.92 342,170.9" fill="none" stroke="#6fa0de" stroke-width="1.1" stroke-linejoin="round" stroke-linecap="round" />
<line x1="213.9" y1="168.4" x2="229.5" y2="168.4" stroke="#f8bf2e" stroke-width="1.1"/>
<text x="231.5" y="170.8" text-anchor="start" style="font-family:'Liberation Serif',serif;font-weight:bold;font-size:7px;" fill="#111" stroke="#111" stroke-width="0.150"><tspan dy="-0.00">Cu@C-600</tspan></text>
<line x1="213.9" y1="177.1" x2="229.5" y2="177.1" stroke="#4cc47f" stroke-width="1.1"/>
<text x="231.5" y="179.5" text-anchor="start" style="font-family:'Liberation Serif',serif;font-weight:bold;font-size:7px;" fill="#111" stroke="#111" stroke-width="0.150"><tspan dy="-0.00">Cu@C-700</tspan></text>
<line x1="213.9" y1="185.9" x2="229.5" y2="185.9" stroke="#f5525a" stroke-width="1.1"/>
<text x="231.5" y="188.3" text-anchor="start" style="font-family:'Liberation Serif',serif;font-weight:bold;font-size:7px;" fill="#111" stroke="#111" stroke-width="0.150"><tspan dy="-0.00">Cu@C-800</tspan></text>
<line x1="213.9" y1="194.3" x2="229.5" y2="194.3" stroke="#6fa0de" stroke-width="1.1"/>
<text x="231.5" y="196.7" text-anchor="start" style="font-family:'Liberation Serif',serif;font-weight:bold;font-size:7px;" fill="#111" stroke="#111" stroke-width="0.150"><tspan dy="-0.00">Cu@C-900</tspan></text>
<text x="370.5" y="163.2" text-anchor="start" style="font-family:'Liberation Serif',serif;font-weight:bold;font-size:19px;" fill="#000" stroke="#000" stroke-width="0.200"><tspan dy="-0.00">f</tspan></text>
<defs><linearGradient id="gr" x1="0" x2="1" y1="0" y2="0"><stop offset="0" stop-color="#ea1a26"/><stop offset="0.5" stop-color="#f26470"/><stop offset="1" stop-color="#fbc6cb"/></linearGradient><linearGradient id="gb" x1="0" x2="1" y1="0" y2="0"><stop offset="0" stop-color="#3a68aa"/><stop offset="0.5" stop-color="#7ca1d2"/><stop offset="1" stop-color="#c8daf0"/></linearGradient><linearGradient id="gg" x1="0" x2="1" y1="0" y2="0"><stop offset="0" stop-color="#acacac"/><stop offset="0.5" stop-color="#d8d8d8"/><stop offset="1" stop-color="#bcbcbc"/></linearGradient></defs>
<rect x="405" y="237.69" width="7.5" height="38.81" fill="url(#gr)"/>
<rect x="412.5" y="200.31" width="7.5" height="76.19" fill="url(#gb)"/>
<rect x="420.0" y="193.41" width="7.5" height="83.09" fill="url(#gg)"/>
<text x="408.75" y="236.39" text-anchor="middle" style="font-family:'Liberation Serif',serif;font-weight:bold;font-size:5.1px;" fill="#111" stroke="#111" stroke-width="0.109"><tspan dy="-0.00">0.67</tspan></text>
<text x="416.25" y="199.01" text-anchor="middle" style="font-family:'Liberation Serif',serif;font-weight:bold;font-size:5.1px;" fill="#111" stroke="#111" stroke-width="0.109"><tspan dy="-0.00">0.93</tspan></text>
<text x="423.75" y="192.11" text-anchor="middle" style="font-family:'Liberation Serif',serif;font-weight:bold;font-size:5.1px;" fill="#111" stroke="#111" stroke-width="0.109"><tspan dy="-0.00">4.89</tspan></text>
<rect x="433.75" y="227.62" width="7.5" height="48.88" fill="url(#gr)"/>
<rect x="441.25" y="197.44" width="7.5" height="79.06" fill="url(#gb)"/>
<rect x="448.75" y="191.40" width="7.5" height="85.10" fill="url(#gg)"/>
<text x="437.5" y="226.32" text-anchor="middle" style="font-family:'Liberation Serif',serif;font-weight:bold;font-size:5.1px;" fill="#111" stroke="#111" stroke-width="0.109"><tspan dy="-0.00">0.74</tspan></text>
<text x="445" y="196.14" text-anchor="middle" style="font-family:'Liberation Serif',serif;font-weight:bold;font-size:5.1px;" fill="#111" stroke="#111" stroke-width="0.109"><tspan dy="-0.00">0.95</tspan></text>
<text x="452.5" y="190.1" text-anchor="middle" style="font-family:'Liberation Serif',serif;font-weight:bold;font-size:5.1px;" fill="#111" stroke="#111" stroke-width="0.109"><tspan dy="-0.00">4.96</tspan></text>
<rect x="461.75" y="217.56" width="7.5" height="58.94" fill="url(#gr)"/>
<rect x="469.25" y="190.25" width="7.5" height="86.25" fill="url(#gb)"/>
<rect x="476.75" y="185.94" width="7.5" height="90.56" fill="url(#gg)"/>
<text x="465.5" y="216.26" text-anchor="middle" style="font-family:'Liberation Serif',serif;font-weight:bold;font-size:5.1px;" fill="#111" stroke="#111" stroke-width="0.109"><tspan dy="-0.00">0.81</tspan></text>
<text x="473" y="188.95" text-anchor="middle" style="font-family:'Liberation Serif',serif;font-weight:bold;font-size:5.1px;" fill="#111" stroke="#111" stroke-width="0.109"><tspan dy="-0.00">1</tspan></text>
<text x="480.5" y="184.64" text-anchor="middle" style="font-family:'Liberation Serif',serif;font-weight:bold;font-size:5.1px;" fill="#111" stroke="#111" stroke-width="0.109"><tspan dy="-0.00">5.15</tspan></text>
<rect x="490.75" y="226.19" width="7.5" height="50.31" fill="url(#gr)"/>
<rect x="498.25" y="203.19" width="7.5" height="73.31" fill="url(#gb)"/>
<rect x="505.75" y="184.79" width="7.5" height="91.71" fill="url(#gg)"/>
<text x="494.5" y="224.89" text-anchor="middle" style="font-family:'Liberation Serif',serif;font-weight:bold;font-size:5.1px;" fill="#111" stroke="#111" stroke-width="0.109"><tspan dy="-0.00">0.75</tspan></text>
<text x="502" y="201.89" text-anchor="middle" style="font-family:'Liberation Serif',serif;font-weight:bold;font-size:5.1px;" fill="#111" stroke="#111" stroke-width="0.109"><tspan dy="-0.00">0.91</tspan></text>
<text x="509.5" y="183.49" text-anchor="middle" style="font-family:'Liberation Serif',serif;font-weight:bold;font-size:5.1px;" fill="#111" stroke="#111" stroke-width="0.109"><tspan dy="-0.00">5.19</tspan></text>
<rect x="387" y="161.5" width="143.25" height="115" fill="none" stroke="#7a7a7a" stroke-width="1.25"/>
<line x1="387" y1="161.5" x2="384.5" y2="161.5" stroke="#7a7a7a" stroke-width="0.9"/>
<text x="383.5" y="163.15" text-anchor="end" style="font-family:'Liberation Serif',serif;font-weight:bold;font-size:5.5px;" fill="#111" stroke="#111" stroke-width="0.118"><tspan dy="-0.00">1.2</tspan></text>
<line x1="387" y1="190.25" x2="384.5" y2="190.25" stroke="#7a7a7a" stroke-width="0.9"/>
<text x="383.5" y="191.9" text-anchor="end" style="font-family:'Liberation Serif',serif;font-weight:bold;font-size:5.5px;" fill="#111" stroke="#111" stroke-width="0.118"><tspan dy="-0.00">1.0</tspan></text>
<line x1="387" y1="219" x2="384.5" y2="219" stroke="#7a7a7a" stroke-width="0.9"/>
<text x="383.5" y="220.65" text-anchor="end" style="font-family:'Liberation Serif',serif;font-weight:bold;font-size:5.5px;" fill="#111" stroke="#111" stroke-width="0.118"><tspan dy="-0.00">0.8</tspan></text>
<line x1="387" y1="247.75" x2="384.5" y2="247.75" stroke="#7a7a7a" stroke-width="0.9"/>
<text x="383.5" y="249.4" text-anchor="end" style="font-family:'Liberation Serif',serif;font-weight:bold;font-size:5.5px;" fill="#111" stroke="#111" stroke-width="0.118"><tspan dy="-0.00">0.6</tspan></text>
<line x1="387" y1="276.5" x2="384.5" y2="276.5" stroke="#7a7a7a" stroke-width="0.9"/>
<text x="383.5" y="278.15" text-anchor="end" style="font-family:'Liberation Serif',serif;font-weight:bold;font-size:5.5px;" fill="#111" stroke="#111" stroke-width="0.118"><tspan dy="-0.00">0.4</tspan></text>
<line x1="530.25" y1="161.5" x2="532.75" y2="161.5" stroke="#7a7a7a" stroke-width="0.9"/>
<text x="533.75" y="163.15" text-anchor="start" style="font-family:'Liberation Serif',serif;font-weight:bold;font-size:5.5px;" fill="#111" stroke="#111" stroke-width="0.118"><tspan dy="-0.00">6</tspan></text>
<line x1="530.25" y1="218.9" x2="532.75" y2="218.9" stroke="#7a7a7a" stroke-width="0.9"/>
<text x="533.75" y="220.55" text-anchor="start" style="font-family:'Liberation Serif',serif;font-weight:bold;font-size:5.5px;" fill="#111" stroke="#111" stroke-width="0.118"><tspan dy="-0.00">4</tspan></text>
<line x1="530.25" y1="276.5" x2="532.75" y2="276.5" stroke="#7a7a7a" stroke-width="0.9"/>
<text x="533.75" y="278.15" text-anchor="start" style="font-family:'Liberation Serif',serif;font-weight:bold;font-size:5.5px;" fill="#111" stroke="#111" stroke-width="0.118"><tspan dy="-0.00">2</tspan></text>
<line x1="416.2" y1="276.5" x2="416.2" y2="278.3" stroke="#7a7a7a" stroke-width="0.9"/>
<text x="416.2" y="285.5" text-anchor="middle" style="font-family:'Liberation Serif',serif;font-weight:bold;font-size:6.5px;" fill="#111" stroke="#111" stroke-width="0.139"><tspan dy="-0.00">600</tspan></text>
<line x1="444.9" y1="276.5" x2="444.9" y2="278.3" stroke="#7a7a7a" stroke-width="0.9"/>
<text x="444.9" y="285.5" text-anchor="middle" style="font-family:'Liberation Serif',serif;font-weight:bold;font-size:6.5px;" fill="#111" stroke="#111" stroke-width="0.139"><tspan dy="-0.00">700</tspan></text>
<line x1="473.6" y1="276.5" x2="473.6" y2="278.3" stroke="#7a7a7a" stroke-width="0.9"/>
<text x="473.6" y="285.5" text-anchor="middle" style="font-family:'Liberation Serif',serif;font-weight:bold;font-size:6.5px;" fill="#111" stroke="#111" stroke-width="0.139"><tspan dy="-0.00">800</tspan></text>
<line x1="502.3" y1="276.5" x2="502.3" y2="278.3" stroke="#7a7a7a" stroke-width="0.9"/>
<text x="502.3" y="285.5" text-anchor="middle" style="font-family:'Liberation Serif',serif;font-weight:bold;font-size:6.5px;" fill="#111" stroke="#111" stroke-width="0.139"><tspan dy="-0.00">900</tspan></text>
<text x="460.6" y="295.2" text-anchor="middle" style="font-family:'Liberation Serif',serif;font-weight:bold;font-size:8.4px;" fill="#111" stroke="#111" stroke-width="0.180"><tspan dy="-0.00">Temperature (</tspan><tspan dy="-3.19" style="font-size:5.21px">o</tspan><tspan dy="3.19">C)</tspan></text>
<text x="374" y="217.2" text-anchor="middle" style="font-family:'Liberation Serif',serif;font-weight:bold;font-size:6.7px;" fill="#111" stroke="#111" stroke-width="0.144" transform="rotate(-90 374 217.2)"><tspan dy="-0.00">Potential (V vs. RHE)</tspan></text>
<text x="538" y="220.6" text-anchor="middle" style="font-family:'Liberation Serif',serif;font-weight:bold;font-size:6.3px;" fill="#111" stroke="#111" stroke-width="0.135" transform="rotate(90 538 220.6)"><tspan dy="-0.00">Current density (mA cm</tspan><tspan dy="-2.39" style="font-size:3.91px">-2</tspan><tspan dy="2.39">)</tspan></text>
<line x1="389" y1="166.9" x2="397" y2="166.9" stroke="#e8202f" stroke-width="2.2"/>
<text x="402" y="169.4" text-anchor="start" style="font-family:'Liberation Serif',serif;font-weight:bold;font-size:7.5px;" fill="#111" stroke="#111" stroke-width="0.161"><tspan dy="-0.00" font-style="italic">E</tspan><tspan dy="1.50" style="font-size:4.65px">1/2</tspan></text>
<line x1="389" y1="174.7" x2="397" y2="174.7" stroke="#3a66a6" stroke-width="2.2"/>
<text x="402" y="177.2" text-anchor="start" style="font-family:'Liberation Serif',serif;font-weight:bold;font-size:7.5px;" fill="#111" stroke="#111" stroke-width="0.161"><tspan dy="-0.00" font-style="italic">E</tspan><tspan dy="1.50" style="font-size:4.65px">onset</tspan></text>
<line x1="389" y1="182.8" x2="397" y2="182.8" stroke="#a4a4a4" stroke-width="2.2"/>
<text x="402" y="185.3" text-anchor="start" style="font-family:'Liberation Serif',serif;font-weight:bold;font-size:7.5px;" fill="#111" stroke="#111" stroke-width="0.161"><tspan dy="-0.00" font-style="italic">J</tspan><tspan dy="1.50" style="font-size:4.65px">L</tspan></text>
<text x="4.3" y="308.8" text-anchor="start" style="font-family:'Liberation Serif',serif;font-weight:bold;font-size:19px;" fill="#000" stroke="#000" stroke-width="0.200"><tspan dy="-0.00">g</tspan></text>
<rect x="32.8" y="304.9" width="142.7" height="115.2" fill="none" stroke="#7a7a7a" stroke-width="1.25"/>
<line x1="32.8" y1="305.2" x2="30.3" y2="305.2" stroke="#7a7a7a" stroke-width="0.9"/>
<text x="29.3" y="307.3" text-anchor="end" style="font-family:'Liberation Serif',serif;font-weight:bold;font-size:7px;" fill="#111" stroke="#111" stroke-width="0.150"><tspan dy="-0.00">1.1</tspan></text>
<line x1="32.8" y1="330.5" x2="30.3" y2="330.5" stroke="#7a7a7a" stroke-width="0.9"/>
<text x="29.3" y="332.6" text-anchor="end" style="font-family:'Liberation Serif',serif;font-weight:bold;font-size:7px;" fill="#111" stroke="#111" stroke-width="0.150"><tspan dy="-0.00">1.0</tspan></text>
<line x1="32.8" y1="355.8" x2="30.3" y2="355.8" stroke="#7a7a7a" stroke-width="0.9"/>
<text x="29.3" y="357.9" text-anchor="end" style="font-family:'Liberation Serif',serif;font-weight:bold;font-size:7px;" fill="#111" stroke="#111" stroke-width="0.150"><tspan dy="-0.00">0.9</tspan></text>
<line x1="32.8" y1="381.1" x2="30.3" y2="381.1" stroke="#7a7a7a" stroke-width="0.9"/>
<text x="29.3" y="383.2" text-anchor="end" style="font-family:'Liberation Serif',serif;font-weight:bold;font-size:7px;" fill="#111" stroke="#111" stroke-width="0.150"><tspan dy="-0.00">0.8</tspan></text>
<line x1="32.8" y1="406.4" x2="30.3" y2="406.4" stroke="#7a7a7a" stroke-width="0.9"/>
<text x="29.3" y="408.5" text-anchor="end" style="font-family:'Liberation Serif',serif;font-weight:bold;font-size:7px;" fill="#111" stroke="#111" stroke-width="0.150"><tspan dy="-0.00">0.7</tspan></text>
<line x1="32.8" y1="317.85" x2="31.3" y2="317.85" stroke="#7a7a7a" stroke-width="0.8"/>
<line x1="32.8" y1="343.15" x2="31.3" y2="343.15" stroke="#7a7a7a" stroke-width="0.8"/>
<line x1="32.8" y1="368.45" x2="31.3" y2="368.45" stroke="#7a7a7a" stroke-width="0.8"/>
<line x1="32.8" y1="393.75" x2="31.3" y2="393.75" stroke="#7a7a7a" stroke-width="0.8"/>
<line x1="32.8" y1="419.05" x2="31.3" y2="419.05" stroke="#7a7a7a" stroke-width="0.8"/>
<line x1="47.95" y1="420.1" x2="47.95" y2="422.6" stroke="#7a7a7a" stroke-width="0.9"/>
<text x="47.95" y="429.1" text-anchor="middle" style="font-family:'Liberation Serif',serif;font-weight:bold;font-size:7px;" fill="#111" stroke="#111" stroke-width="0.150"><tspan dy="-0.00">-1.0</tspan></text>
<line x1="85.1" y1="420.1" x2="85.1" y2="422.6" stroke="#7a7a7a" stroke-width="0.9"/>
<text x="85.1" y="429.1" text-anchor="middle" style="font-family:'Liberation Serif',serif;font-weight:bold;font-size:7px;" fill="#111" stroke="#111" stroke-width="0.150"><tspan dy="-0.00">-0.5</tspan></text>
<line x1="122.25" y1="420.1" x2="122.25" y2="422.6" stroke="#7a7a7a" stroke-width="0.9"/>
<text x="122.25" y="429.1" text-anchor="middle" style="font-family:'Liberation Serif',serif;font-weight:bold;font-size:7px;" fill="#111" stroke="#111" stroke-width="0.150"><tspan dy="-0.00">0.0</tspan></text>
<line x1="159.4" y1="420.1" x2="159.4" y2="422.6" stroke="#7a7a7a" stroke-width="0.9"/>
<text x="159.4" y="429.1" text-anchor="middle" style="font-family:'Liberation Serif',serif;font-weight:bold;font-size:7px;" fill="#111" stroke="#111" stroke-width="0.150"><tspan dy="-0.00">0.5</tspan></text>
<line x1="66.53" y1="420.1" x2="66.53" y2="421.6" stroke="#7a7a7a" stroke-width="0.8"/>
<line x1="103.67" y1="420.1" x2="103.67" y2="421.6" stroke="#7a7a7a" stroke-width="0.8"/>
<line x1="140.82" y1="420.1" x2="140.82" y2="421.6" stroke="#7a7a7a" stroke-width="0.8"/>
<text x="104" y="439.5" text-anchor="middle" style="font-family:'Liberation Serif',serif;font-weight:bold;font-size:9px;" fill="#111" stroke="#111" stroke-width="0.193"><tspan dy="-0.00">Log [</tspan><tspan dy="0.00" font-style="italic">j</tspan><tspan dy="0.00"> (mA cm</tspan><tspan dy="-3.42" style="font-size:5.58px">-2</tspan><tspan dy="3.42">)]</tspan></text>
<text x="13.5" y="362" text-anchor="middle" style="font-family:'Liberation Serif',serif;font-weight:bold;font-size:9px;" fill="#111" stroke="#111" stroke-width="0.193" transform="rotate(-90 13.5 362)"><tspan dy="-0.00">E (V </tspan><tspan dy="0.00" font-style="italic">vs.</tspan><tspan dy="0.00"> RHE)</tspan></text>
<path d="M87.5,350.51 C88.31,350.75 90.76,351.41 92.39,351.9 C94.02,352.4 95.64,352.92 97.27,353.48 C98.9,354.03 100.53,354.62 102.16,355.23 C103.79,355.85 105.42,356.5 107.05,357.18 C108.67,357.86 110.3,358.57 111.93,359.31 C113.56,360.05 115.19,360.82 116.82,361.62 C118.45,362.42 120.08,363.26 121.7,364.12 C123.33,364.98 124.96,365.88 126.59,366.8 C128.22,367.73 129.85,368.69 131.48,369.67 C133.11,370.66 134.73,371.68 136.36,372.73 C137.99,373.78 140.44,375.43 141.25,375.97" fill="none" stroke="#f5b000" stroke-width="3.2" stroke-linejoin="round" stroke-linecap="round" />
<path d="M46.5,342.97 C47.55,343.19 50.68,343.84 52.77,344.32 C54.86,344.81 56.95,345.33 59.05,345.88 C61.14,346.43 63.23,347.01 65.32,347.62 C67.41,348.23 69.5,348.88 71.59,349.56 C73.68,350.24 75.77,350.95 77.86,351.69 C79.95,352.44 82.05,353.21 84.14,354.02 C86.23,354.83 88.32,355.67 90.41,356.54 C92.5,357.41 94.59,358.32 96.68,359.25 C98.77,360.19 100.86,361.16 102.95,362.16 C105.05,363.16 107.14,364.19 109.23,365.26 C111.32,366.33 114.45,368.01 115.5,368.56" fill="none" stroke="#f0303c" stroke-width="3.2" stroke-linejoin="round" stroke-linecap="round" />
<path d="M48,347.93 C48.88,348.18 51.53,348.91 53.3,349.43 C55.06,349.96 56.83,350.52 58.59,351.1 C60.36,351.68 62.12,352.29 63.89,352.93 C65.65,353.57 67.42,354.24 69.18,354.93 C70.95,355.63 72.71,356.35 74.48,357.1 C76.24,357.85 78.01,358.63 79.77,359.44 C81.54,360.24 83.3,361.08 85.07,361.94 C86.83,362.8 88.6,363.69 90.36,364.61 C92.13,365.53 93.89,366.47 95.66,367.45 C97.42,368.42 99.19,369.42 100.95,370.45 C102.72,371.48 105.37,373.09 106.25,373.62" fill="none" stroke="#5a8fd2" stroke-width="3.2" stroke-linejoin="round" stroke-linecap="round" />
<path d="M107.8,369.34 C108.52,369.5 110.69,369.92 112.14,370.28 C113.58,370.63 115.03,371.03 116.47,371.46 C117.92,371.9 119.36,372.38 120.81,372.91 C122.25,373.43 123.7,374 125.15,374.6 C126.59,375.21 128.04,375.86 129.48,376.56 C130.93,377.25 132.37,377.99 133.82,378.76 C135.26,379.54 136.71,380.36 138.15,381.23 C139.6,382.09 141.05,383 142.49,383.94 C143.94,384.89 145.38,385.88 146.83,386.92 C148.27,387.95 149.72,389.02 151.16,390.14 C152.61,391.26 154.78,393.04 155.5,393.62" fill="none" stroke="#2db84d" stroke-width="3.2" stroke-linejoin="round" stroke-linecap="round" />
<circle cx="125.5" cy="310.5" r="1.6" fill="#2db84d"/>
<text x="131.8" y="313" text-anchor="start" style="font-family:'Liberation Serif',serif;font-weight:bold;font-size:7.3px;" fill="#111" stroke="#111" stroke-width="0.156"><tspan dy="-0.00">Cu@C-600</tspan></text>
<circle cx="125.5" cy="319" r="1.6" fill="#f5b000"/>
<text x="131.8" y="321.5" text-anchor="start" style="font-family:'Liberation Serif',serif;font-weight:bold;font-size:7.3px;" fill="#111" stroke="#111" stroke-width="0.156"><tspan dy="-0.00">Cu@C-700</tspan></text>
<circle cx="125.5" cy="328" r="1.6" fill="#f0303c"/>
<text x="131.8" y="330.5" text-anchor="start" style="font-family:'Liberation Serif',serif;font-weight:bold;font-size:7.3px;" fill="#111" stroke="#111" stroke-width="0.156"><tspan dy="-0.00">Cu@C-800</tspan></text>
<circle cx="125.5" cy="337.25" r="1.6" fill="#5a8fd2"/>
<text x="131.8" y="339.75" text-anchor="start" style="font-family:'Liberation Serif',serif;font-weight:bold;font-size:7.3px;" fill="#111" stroke="#111" stroke-width="0.156"><tspan dy="-0.00">Cu@C-900</tspan></text>
<text x="68.3" y="337" text-anchor="middle" style="font-family:'Liberation Serif',serif;font-weight:bold;font-size:6.8px;" fill="#f0303c" stroke="#f0303c" stroke-width="0.146"><tspan dy="-0.00">107 mV dec</tspan><tspan dy="-2.58" style="font-size:4.22px">-1</tspan></text>
<text x="130.5" y="353.3" text-anchor="middle" style="font-family:'Liberation Serif',serif;font-weight:bold;font-size:6.8px;" fill="#f5b000" stroke="#f5b000" stroke-width="0.146"><tspan dy="-0.00">140 mV dec</tspan><tspan dy="-2.58" style="font-size:4.22px">-1</tspan></text>
<text x="61.7" y="368.5" text-anchor="middle" style="font-family:'Liberation Serif',serif;font-weight:bold;font-size:6.8px;" fill="#4a7cc0" stroke="#4a7cc0" stroke-width="0.146"><tspan dy="-0.00">127 mV dec</tspan><tspan dy="-2.58" style="font-size:4.22px">-1</tspan></text>
<text x="111" y="387" text-anchor="middle" style="font-family:'Liberation Serif',serif;font-weight:bold;font-size:6.8px;" fill="#2db84d" stroke="#2db84d" stroke-width="0.146"><tspan dy="-0.00">157 mV dec</tspan><tspan dy="-2.58" style="font-size:4.22px">-1</tspan></text>
<text x="186.8" y="309.3" text-anchor="start" style="font-family:'Liberation Serif',serif;font-weight:bold;font-size:19px;" fill="#000" stroke="#000" stroke-width="0.200"><tspan dy="-0.00">h</tspan></text>
<rect x="211.2" y="304.9" width="143.2" height="115.2" fill="none" stroke="#7a7a7a" stroke-width="1.25"/>
<line x1="211.2" y1="305.25" x2="208.7" y2="305.25" stroke="#7a7a7a" stroke-width="0.9"/>
<text x="207.7" y="307.35" text-anchor="end" style="font-family:'Liberation Serif',serif;font-weight:bold;font-size:7px;" fill="#111" stroke="#111" stroke-width="0.150"><tspan dy="-0.00">1.0</tspan></text>
<line x1="211.2" y1="328.2" x2="208.7" y2="328.2" stroke="#7a7a7a" stroke-width="0.9"/>
<text x="207.7" y="330.3" text-anchor="end" style="font-family:'Liberation Serif',serif;font-weight:bold;font-size:7px;" fill="#111" stroke="#111" stroke-width="0.150"><tspan dy="-0.00">0.8</tspan></text>
<line x1="211.2" y1="351.15" x2="208.7" y2="351.15" stroke="#7a7a7a" stroke-width="0.9"/>
<text x="207.7" y="353.25" text-anchor="end" style="font-family:'Liberation Serif',serif;font-weight:bold;font-size:7px;" fill="#111" stroke="#111" stroke-width="0.150"><tspan dy="-0.00">0.6</tspan></text>
<line x1="211.2" y1="374.1" x2="208.7" y2="374.1" stroke="#7a7a7a" stroke-width="0.9"/>
<text x="207.7" y="376.2" text-anchor="end" style="font-family:'Liberation Serif',serif;font-weight:bold;font-size:7px;" fill="#111" stroke="#111" stroke-width="0.150"><tspan dy="-0.00">0.4</tspan></text>
<line x1="211.2" y1="397.05" x2="208.7" y2="397.05" stroke="#7a7a7a" stroke-width="0.9"/>
<text x="207.7" y="399.15" text-anchor="end" style="font-family:'Liberation Serif',serif;font-weight:bold;font-size:7px;" fill="#111" stroke="#111" stroke-width="0.150"><tspan dy="-0.00">0.2</tspan></text>
<line x1="211.2" y1="420" x2="208.7" y2="420" stroke="#7a7a7a" stroke-width="0.9"/>
<text x="207.7" y="422.1" text-anchor="end" style="font-family:'Liberation Serif',serif;font-weight:bold;font-size:7px;" fill="#111" stroke="#111" stroke-width="0.150"><tspan dy="-0.00">0.0</tspan></text>
<line x1="211.2" y1="316.73" x2="209.7" y2="316.73" stroke="#7a7a7a" stroke-width="0.8"/>
<line x1="211.2" y1="339.68" x2="209.7" y2="339.68" stroke="#7a7a7a" stroke-width="0.8"/>
<line x1="211.2" y1="362.62" x2="209.7" y2="362.62" stroke="#7a7a7a" stroke-width="0.8"/>
<line x1="211.2" y1="385.57" x2="209.7" y2="385.57" stroke="#7a7a7a" stroke-width="0.8"/>
<line x1="211.2" y1="408.52" x2="209.7" y2="408.52" stroke="#7a7a7a" stroke-width="0.8"/>
<line x1="211" y1="420" x2="211" y2="422.5" stroke="#7a7a7a" stroke-width="0.9"/>
<line x1="283.25" y1="420" x2="283.25" y2="422.5" stroke="#7a7a7a" stroke-width="0.9"/>
<line x1="354.25" y1="420" x2="354.25" y2="422.5" stroke="#7a7a7a" stroke-width="0.9"/>
<line x1="247" y1="420" x2="247" y2="421.5" stroke="#7a7a7a" stroke-width="0.8"/>
<line x1="319" y1="420" x2="319" y2="421.5" stroke="#7a7a7a" stroke-width="0.8"/>
<text x="211" y="429" text-anchor="middle" style="font-family:'Liberation Serif',serif;font-weight:bold;font-size:7px;" fill="#111" stroke="#111" stroke-width="0.150"><tspan dy="-0.00">0</tspan></text>
<text x="281.4" y="429" text-anchor="middle" style="font-family:'Liberation Serif',serif;font-weight:bold;font-size:7px;" fill="#111" stroke="#111" stroke-width="0.150"><tspan dy="-0.00">10,000</tspan></text>
<text x="352.8" y="429" text-anchor="middle" style="font-family:'Liberation Serif',serif;font-weight:bold;font-size:7px;" fill="#111" stroke="#111" stroke-width="0.150"><tspan dy="-0.00">20,000</tspan></text>
<text x="280.2" y="439.5" text-anchor="middle" style="font-family:'Liberation Serif',serif;font-weight:bold;font-size:9px;" fill="#111" stroke="#111" stroke-width="0.193"><tspan dy="-0.00">Time (s)</tspan></text>
<text x="191" y="362.5" text-anchor="middle" style="font-family:'Liberation Serif',serif;font-weight:bold;font-size:9px;" fill="#111" stroke="#111" stroke-width="0.193" transform="rotate(-90 191 362.5)"><tspan dy="-0.00">Normalized Current (I/I</tspan><tspan dy="1.80" style="font-size:5.58px">0</tspan><tspan dy="-1.80">)</tspan></text>
<path d="M211.4,305.2 C211.58,305.42 212.05,306.08 212.5,306.5 C212.95,306.92 213.18,307.28 214.1,307.7 C215.02,308.12 216.48,308.62 218,309 C219.52,309.38 219.3,309.45 223.2,310 C227.1,310.55 236.1,311.7 241.4,312.3 C246.7,312.9 249.48,313.18 255,313.6 C260.52,314.02 265,314.32 274.5,314.8 C284,315.28 298.78,315.97 312,316.5 C325.22,317.03 346.83,317.75 353.8,318" fill="none" stroke="#333" stroke-width="1.5" stroke-linejoin="round" stroke-linecap="round" />
<path d="M211.4,305.5 C211.62,305.95 211.95,307.3 212.7,308.2 C213.45,309.1 214.15,310.07 215.9,310.9 C217.65,311.73 218.95,312.22 223.2,313.2 C227.45,314.18 236.1,315.9 241.4,316.8 C246.7,317.7 249.48,318.02 255,318.6 C260.52,319.18 265,319.68 274.5,320.3 C284,320.92 298.78,321.68 312,322.3 C325.22,322.92 346.83,323.72 353.8,324" fill="none" stroke="#ee1c25" stroke-width="2.1" stroke-linejoin="round" stroke-linecap="round" />
<text x="291.4" y="336.3" text-anchor="start" style="font-family:'Liberation Serif',serif;font-weight:bold;font-size:6.8px;" fill="#111" stroke="#111" stroke-width="0.146"><tspan dy="-0.00">E</tspan><tspan dy="1.36" style="font-size:4.22px">a</tspan><tspan dy="-1.36">= 0.45 V vs. RHE</tspan></text>
<line x1="211.5" y1="404.5" x2="224.7" y2="404.5" stroke="#555" stroke-width="1"/>
<line x1="211.5" y1="415.4" x2="224.7" y2="415.4" stroke="#ee1c25" stroke-width="1"/>
<text x="226.4" y="407.4" text-anchor="start" style="font-family:'Liberation Serif',serif;font-weight:bold;font-size:9px;" fill="#111" stroke="#111" stroke-width="0.193"><tspan dy="-0.00">Cu@C-800</tspan></text>
<text x="226.4" y="418" text-anchor="start" style="font-family:'Liberation Serif',serif;font-weight:bold;font-size:9px;" fill="#111" stroke="#111" stroke-width="0.193"><tspan dy="-0.00">Pt/C</tspan></text>
<rect x="291.6" y="351" width="56.4" height="49.6" fill="none" stroke="#999" stroke-width="0.7"/>
<line x1="291.6" y1="357.1" x2="290.4" y2="357.1" stroke="#888" stroke-width="0.5"/>
<text x="289.6" y="358.5" text-anchor="end" style="font-family:'Liberation Serif',serif;font-weight:bold;font-size:4px;" fill="#111" stroke="#111" stroke-width="0.086"><tspan dy="-0.00">0</tspan></text>
<line x1="291.6" y1="372.2" x2="290.4" y2="372.2" stroke="#888" stroke-width="0.5"/>
<text x="289.6" y="373.6" text-anchor="end" style="font-family:'Liberation Serif',serif;font-weight:bold;font-size:4px;" fill="#111" stroke="#111" stroke-width="0.086"><tspan dy="-0.00">-2</tspan></text>
<line x1="291.6" y1="388.8" x2="290.4" y2="388.8" stroke="#888" stroke-width="0.5"/>
<text x="289.6" y="390.2" text-anchor="end" style="font-family:'Liberation Serif',serif;font-weight:bold;font-size:4px;" fill="#111" stroke="#111" stroke-width="0.086"><tspan dy="-0.00">-4</tspan></text>
<text x="309" y="404" text-anchor="middle" style="font-family:'Liberation Serif',serif;font-weight:bold;font-size:4px;" fill="#111" stroke="#111" stroke-width="0.086"><tspan dy="-0.00">0.5</tspan></text>
<text x="333.1" y="404" text-anchor="middle" style="font-family:'Liberation Serif',serif;font-weight:bold;font-size:4px;" fill="#111" stroke="#111" stroke-width="0.086"><tspan dy="-0.00">1.0</tspan></text>
<text x="319.2" y="408.6" text-anchor="middle" style="font-family:'Liberation Serif',serif;font-weight:bold;font-size:4.8px;" fill="#111" stroke="#111" stroke-width="0.103"><tspan dy="-0.00">Potential (V vs. RHE)</tspan></text>
<text x="284.6" y="378.2" text-anchor="middle" style="font-family:'Liberation Serif',serif;font-weight:bold;font-size:4.2px;" fill="#111" stroke="#111" stroke-width="0.090" transform="rotate(-90 284.6 378.2)"><tspan dy="-0.00">Current Density (mA cm</tspan><tspan dy="-1.60" style="font-size:2.60px">-2</tspan><tspan dy="1.60">)</tspan></text>
<path d="M295.4,397.6 C298.28,397.52 308.8,397.57 312.7,397.1 C316.6,396.63 317.28,395.93 318.8,394.8 C320.32,393.67 320.92,392.3 321.8,390.3 C322.68,388.3 323.35,385.82 324.1,382.8 C324.85,379.78 325.42,375.48 326.3,372.2 C327.18,368.92 328.38,365.37 329.4,363.1 C330.42,360.83 331.4,359.6 332.4,358.6 C333.4,357.6 333.63,357.4 335.4,357.1 C337.17,356.8 341.73,356.85 343,356.8" fill="none" stroke="#222" stroke-width="0.8" stroke-linejoin="round" stroke-linecap="round" />
<path d="M295.4,397.9 C298.8,397.77 311.65,397.48 315.8,397.1 C319.95,396.72 319.05,396.48 320.3,395.6 C321.55,394.72 322.42,393.68 323.3,391.8 C324.18,389.92 324.85,387.32 325.6,384.3 C326.35,381.28 326.92,377.23 327.8,373.7 C328.68,370.17 329.88,365.62 330.9,363.1 C331.92,360.58 332.9,359.6 333.9,358.6 C334.9,357.6 335.38,357.4 336.9,357.1 C338.42,356.8 341.98,356.85 343,356.8" fill="none" stroke="#ee1c25" stroke-width="0.8" stroke-linejoin="round" stroke-linecap="round" />
<line x1="292.3" y1="356.3" x2="296.6" y2="356.3" stroke="#222" stroke-width="0.6"/>
<line x1="292.3" y1="361.6" x2="296.6" y2="361.6" stroke="#ee1c25" stroke-width="0.6"/>
<text x="297.6" y="357.8" text-anchor="start" style="font-family:'Liberation Serif',serif;font-weight:bold;font-size:4.2px;" fill="#111" stroke="#111" stroke-width="0.090"><tspan dy="-0.00">Cu@C-800</tspan></text>
<text x="297.6" y="363.1" text-anchor="start" style="font-family:'Liberation Serif',serif;font-weight:bold;font-size:4.2px;" fill="#111" stroke="#111" stroke-width="0.090"><tspan dy="-0.00">Pt/C</tspan></text>
<text x="370.2" y="310.3" text-anchor="start" style="font-family:'Liberation Serif',serif;font-weight:bold;font-size:19px;" fill="#000" stroke="#000" stroke-width="0.200"><tspan dy="-0.00">i</tspan></text>
<rect x="398.2" y="304.9" width="143.1" height="115.2" fill="none" stroke="#7a7a7a" stroke-width="1.25"/>
<line x1="398.2" y1="315.3" x2="395.7" y2="315.3" stroke="#7a7a7a" stroke-width="0.9"/>
<text x="394.7" y="317.4" text-anchor="end" style="font-family:'Liberation Serif',serif;font-weight:bold;font-size:7px;" fill="#111" stroke="#111" stroke-width="0.150"><tspan dy="-0.00">1.0</tspan></text>
<line x1="398.2" y1="336.26" x2="395.7" y2="336.26" stroke="#7a7a7a" stroke-width="0.9"/>
<text x="394.7" y="338.36" text-anchor="end" style="font-family:'Liberation Serif',serif;font-weight:bold;font-size:7px;" fill="#111" stroke="#111" stroke-width="0.150"><tspan dy="-0.00">0.8</tspan></text>
<line x1="398.2" y1="357.22" x2="395.7" y2="357.22" stroke="#7a7a7a" stroke-width="0.9"/>
<text x="394.7" y="359.32" text-anchor="end" style="font-family:'Liberation Serif',serif;font-weight:bold;font-size:7px;" fill="#111" stroke="#111" stroke-width="0.150"><tspan dy="-0.00">0.6</tspan></text>
<line x1="398.2" y1="378.18" x2="395.7" y2="378.18" stroke="#7a7a7a" stroke-width="0.9"/>
<text x="394.7" y="380.28" text-anchor="end" style="font-family:'Liberation Serif',serif;font-weight:bold;font-size:7px;" fill="#111" stroke="#111" stroke-width="0.150"><tspan dy="-0.00">0.4</tspan></text>
<line x1="398.2" y1="399.14" x2="395.7" y2="399.14" stroke="#7a7a7a" stroke-width="0.9"/>
<text x="394.7" y="401.24" text-anchor="end" style="font-family:'Liberation Serif',serif;font-weight:bold;font-size:7px;" fill="#111" stroke="#111" stroke-width="0.150"><tspan dy="-0.00">0.2</tspan></text>
<line x1="398.2" y1="420.1" x2="395.7" y2="420.1" stroke="#7a7a7a" stroke-width="0.9"/>
<text x="394.7" y="422.2" text-anchor="end" style="font-family:'Liberation Serif',serif;font-weight:bold;font-size:7px;" fill="#111" stroke="#111" stroke-width="0.150"><tspan dy="-0.00">0.0</tspan></text>
<line x1="398.2" y1="325.78" x2="396.7" y2="325.78" stroke="#7a7a7a" stroke-width="0.8"/>
<line x1="398.2" y1="346.74" x2="396.7" y2="346.74" stroke="#7a7a7a" stroke-width="0.8"/>
<line x1="398.2" y1="367.7" x2="396.7" y2="367.7" stroke="#7a7a7a" stroke-width="0.8"/>
<line x1="398.2" y1="388.66" x2="396.7" y2="388.66" stroke="#7a7a7a" stroke-width="0.8"/>
<line x1="398.2" y1="409.62" x2="396.7" y2="409.62" stroke="#7a7a7a" stroke-width="0.8"/>
<line x1="398.5" y1="420.1" x2="398.5" y2="422.6" stroke="#7a7a7a" stroke-width="0.9"/>
<text x="398.5" y="429.1" text-anchor="middle" style="font-family:'Liberation Serif',serif;font-weight:bold;font-size:7px;" fill="#111" stroke="#111" stroke-width="0.150"><tspan dy="-0.00">0</tspan></text>
<line x1="446.15" y1="420.1" x2="446.15" y2="422.6" stroke="#7a7a7a" stroke-width="0.9"/>
<text x="446.15" y="429.1" text-anchor="middle" style="font-family:'Liberation Serif',serif;font-weight:bold;font-size:7px;" fill="#111" stroke="#111" stroke-width="0.150"><tspan dy="-0.00">500</tspan></text>
<line x1="493.8" y1="420.1" x2="493.8" y2="422.6" stroke="#7a7a7a" stroke-width="0.9"/>
<text x="493.8" y="429.1" text-anchor="middle" style="font-family:'Liberation Serif',serif;font-weight:bold;font-size:7px;" fill="#111" stroke="#111" stroke-width="0.150"><tspan dy="-0.00">1000</tspan></text>
<line x1="541.45" y1="420.1" x2="541.45" y2="422.6" stroke="#7a7a7a" stroke-width="0.9"/>
<text x="541.45" y="429.1" text-anchor="middle" style="font-family:'Liberation Serif',serif;font-weight:bold;font-size:7px;" fill="#111" stroke="#111" stroke-width="0.150"><tspan dy="-0.00">1500</tspan></text>
<line x1="422.32" y1="420.1" x2="422.32" y2="421.6" stroke="#7a7a7a" stroke-width="0.8"/>
<line x1="469.98" y1="420.1" x2="469.98" y2="421.6" stroke="#7a7a7a" stroke-width="0.8"/>
<line x1="517.62" y1="420.1" x2="517.62" y2="421.6" stroke="#7a7a7a" stroke-width="0.8"/>
<text x="470" y="439.5" text-anchor="middle" style="font-family:'Liberation Serif',serif;font-weight:bold;font-size:9px;" fill="#111" stroke="#111" stroke-width="0.193"><tspan dy="-0.00">Time (s)</tspan></text>
<text x="379.5" y="358" text-anchor="middle" style="font-family:'Liberation Serif',serif;font-weight:bold;font-size:8.2px;" fill="#111" stroke="#111" stroke-width="0.176" transform="rotate(-90 379.5 358)"><tspan dy="-0.00">Normalized&#160;&#160;Current (I/I</tspan><tspan dy="1.64" style="font-size:5.08px">0</tspan><tspan dy="-1.64">)</tspan></text>
<path d="M399,314.8 L444.5,317.1" fill="none" stroke="#333" stroke-width="1.0" stroke-linejoin="round" stroke-linecap="round" />
<path d="M446.7,312.9 C448.58,313.22 454.12,314.22 458,314.8 C461.88,315.38 465.73,315.92 470,316.4 C474.27,316.88 479.05,317.3 483.6,317.7 C488.15,318.1 492.73,318.45 497.3,318.8 C501.87,319.15 506.45,319.48 511,319.8 C515.55,320.12 519.6,320.37 524.6,320.7 C529.6,321.03 538.27,321.62 541,321.8" fill="none" stroke="#444" stroke-width="1.0" stroke-linejoin="round" stroke-linecap="round" />
<path d="M399,314.8 C402.5,315 412.42,315.62 420,316 C427.58,316.38 440.42,316.92 444.5,317.1" fill="none" stroke="#ee1c25" stroke-width="1.1" stroke-linejoin="round" stroke-linecap="round" />
<path d="M446.7,316.4 C447.7,316.93 450.82,318.7 452.7,319.6 C454.58,320.5 456.18,321.17 458,321.8 C459.82,322.43 461.6,322.93 463.6,323.4 C465.6,323.87 466.67,324 470,324.6 C473.33,325.2 479.05,326.33 483.6,327 C488.15,327.67 491.62,328.05 497.3,328.6 C502.98,329.15 510.42,329.88 517.7,330.3 C524.98,330.72 537.12,330.97 541,331.1" fill="none" stroke="#ee1c25" stroke-width="1.1" stroke-linejoin="round" stroke-linecap="round" />
<path d="M444.8,317 L445.6,308.2 L446.2,371.8 L446.8,309 L447,316.4" fill="none" stroke="#ee1c25" stroke-width="0.9"/>
<text x="475.8" y="352.4" text-anchor="start" style="font-family:'Liberation Serif',serif;font-weight:bold;font-size:6.8px;" fill="#111" stroke="#111" stroke-width="0.146"><tspan dy="-0.00">E</tspan><tspan dy="1.36" style="font-size:4.22px">a</tspan><tspan dy="-1.36">= 0.45 V vs. RHE</tspan></text>
<line x1="400" y1="404.25" x2="416.25" y2="404.25" stroke="#555" stroke-width="1"/>
<line x1="400" y1="414.75" x2="416.25" y2="414.75" stroke="#ee1c25" stroke-width="1"/>
<text x="418.6" y="407.3" text-anchor="start" style="font-family:'Liberation Serif',serif;font-weight:bold;font-size:9px;" fill="#111" stroke="#111" stroke-width="0.193"><tspan dy="-0.00">Cu@C-800</tspan></text>
<text x="418.6" y="417.9" text-anchor="start" style="font-family:'Liberation Serif',serif;font-weight:bold;font-size:9px;" fill="#111" stroke="#111" stroke-width="0.193"><tspan dy="-0.00">Pt/C</tspan></text>
</g>
</svg></body></html>
